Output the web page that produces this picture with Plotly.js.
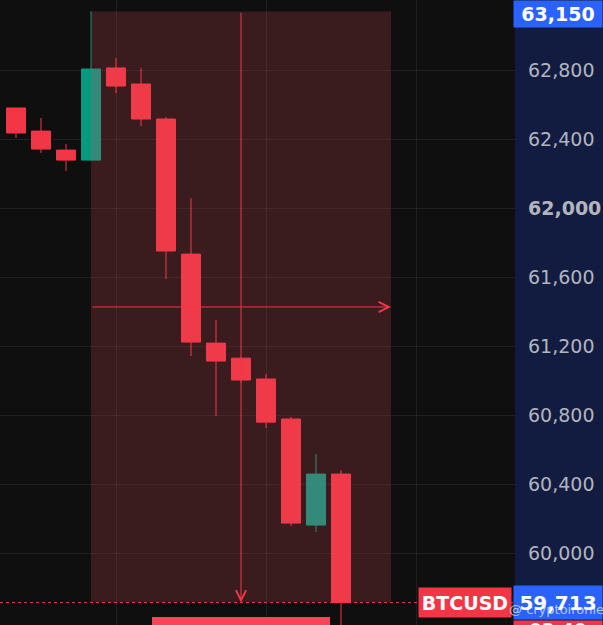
<!DOCTYPE html>
<html>
<head>
<meta charset="utf-8">
<script src="https://cdn.plot.ly/plotly-3.0.1.min.js"></script>
<style>
  html, body { margin: 0; padding: 0; background: #0f0f0f; }
  #chart { width: 603px; height: 625px; }
</style>
</head>
<body>
<div id="chart"></div>
<script>
// Bar index (5-min candles)
const barIndex = [0, 1, 2, 3, 4, 5, 6, 7, 8, 9, 10, 11, 12, 13];
const openPrices  = [62580, 62446, 62336, 62278, 62812, 62719, 62516, 61733, 61217, 61130, 61009, 60777, 60162, 60458];
const highPrices  = [62580, 62522, 62371, 63140, 62870, 62812, 62528, 62058, 61351, 61135, 61038, 60790, 60574, 60481];
const lowPrices   = [62406, 62319, 62215, 62278, 62667, 62475, 61588, 61142, 60794, 60990, 60725, 60157, 60122, 59560];
const closePrices = [62435, 62342, 62278, 62806, 62707, 62516, 61751, 61223, 61113, 61003, 60759, 60174, 60458, 59713];

const priceTicks = [60000, 60400, 60800, 61200, 61600, 62000, 62400, 62800];
const priceTickText = ["60,000", "60,400", "60,800", "61,200", "61,600", "<b>62,000</b>", "62,400", "62,800"];

const symbol = "BTCUSD";
const lastPriceText = "59,713";
const highLabelText = "63,150";
const countdownText = "03:40";
const watermark = "@ cryptoironie";

const UP = "#089981", DOWN = "#f23645";
const measureStart = 3, measureEnd = 15;
const measureTop = highPrices[3];
const lastClose = closePrices[closePrices.length - 1];
const measureMid = (measureTop + lastClose) / 2;
const measureMidX = (measureStart + measureEnd) / 2;
const xDomainEnd = 515 / 603;

const trace = {
  type: "candlestick",
  x: barIndex,
  open: openPrices, high: highPrices, low: lowPrices, close: closePrices,
  increasing: { line: { color: UP, width: 1 }, fillcolor: UP },
  decreasing: { line: { color: DOWN, width: 1 }, fillcolor: DOWN },
  whiskerwidth: 0,
  hoverinfo: "none",
  showlegend: false
};

const gridCol = "rgba(255,255,255,0.07)";

const layout = {
  width: 603, height: 625,
  margin: { l: 0, r: 0, t: 0, b: 0 },
  paper_bgcolor: "#0f0f0f",
  plot_bgcolor: "#0f0f0f",
  boxgap: 0.24,
  boxgroupgap: 0,
  showlegend: false,
  xaxis: {
    domain: [0, xDomainEnd],
    range: [-0.64, 19.96],
    showticklabels: false,
    ticks: "",
    tick0: 4, dtick: 6,
    showgrid: true, gridcolor: gridCol, gridwidth: 1,
    zeroline: false, showline: false,
    rangeslider: { visible: false },
    fixedrange: true
  },
  yaxis: {
    side: "right",
    range: [59583, 63206],
    tickmode: "array",
    tickvals: priceTicks,
    ticktext: priceTickText,
    ticks: "",
    ticklabelstandoff: 12,
    tickfont: { family: "DejaVu Sans", size: 19, color: "#b2b5be" },
    showgrid: true, gridcolor: gridCol, gridwidth: 1,
    zeroline: false, showline: false,
    fixedrange: true
  },
  shapes: [
    // right price panel
    { type: "rect", xref: "paper", yref: "paper", x0: xDomainEnd, x1: 1, y0: 0, y1: 1,
      fillcolor: "#121c40", line: { width: 0 }, layer: "below" },
    // measure region
    { type: "rect", xref: "x", yref: "y", x0: measureStart, x1: measureEnd, y0: lastClose, y1: measureTop,
      fillcolor: "rgba(230,80,90,0.2)", line: { width: 0 }, layer: "above" },
    // dotted last price line
    { type: "line", xref: "paper", yref: "y", x0: 0, x1: xDomainEnd, y0: lastClose, y1: lastClose,
      line: { color: DOWN, width: 1, dash: "dot" }, layer: "above" },
    // date range label at bottom
    { type: "rect", xref: "x", yref: "paper", x0: 5.44, x1: 12.56, y0: -0.05, y1: 8 / 625,
      fillcolor: "#f5475a", line: { width: 0 }, layer: "above" }
  ],
  annotations: [
    // horizontal measure line with arrow
    { xref: "x", yref: "y", axref: "x", ayref: "y", x: measureEnd, y: measureMid, ax: measureStart, ay: measureMid,
      text: "", showarrow: true, arrowhead: 5, arrowsize: 2, arrowwidth: 1, arrowcolor: DOWN },
    // vertical measure line with arrow
    { xref: "x", yref: "y", axref: "x", ayref: "y", x: measureMidX, y: lastClose, ax: measureMidX, ay: measureTop,
      text: "", showarrow: true, arrowhead: 5, arrowsize: 2, arrowwidth: 1, arrowcolor: DOWN },
    // high label
    { xref: "paper", yref: "paper", x: 1, y: 1, xanchor: "right", yanchor: "top",
      text: "<b>" + highLabelText + "</b>", showarrow: false, width: 88, height: 26,
      bgcolor: "#2962ff", borderpad: 0, font: { family: "DejaVu Sans", size: 19, color: "#ffffff" } },
    // last price label
    { xref: "paper", yref: "y", x: 1, y: lastClose, xanchor: "right", yanchor: "middle",
      text: "<b>" + lastPriceText + "</b>", showarrow: false, width: 88, height: 33,
      bgcolor: "#2962ff", borderpad: 0, font: { family: "DejaVu Sans", size: 20, color: "#ffffff" } },
    // countdown label (cut off)
    { xref: "paper", yref: "paper", x: 1, y: 5 / 625, xanchor: "right", yanchor: "top",
      text: "<b>" + countdownText + "</b>", showarrow: false, width: 88, height: 17,
      bgcolor: DOWN, borderpad: 0, font: { family: "DejaVu Sans", size: 18, color: "#ffffff" } },
    // symbol label
    { xref: "paper", yref: "y", x: 512 / 603, y: lastClose, xanchor: "right", yanchor: "middle",
      text: "<b>" + symbol + "</b>", showarrow: false, width: 92, height: 29,
      bgcolor: DOWN, borderpad: 0, font: { family: "DejaVu Sans", size: 19, color: "#ffffff" } },
    // watermark
    { xref: "paper", yref: "paper", x: 556 / 603, y: 1 - 609 / 625, xanchor: "center", yanchor: "middle",
      text: watermark, showarrow: false,
      font: { family: "DejaVu Sans", size: 13, color: "rgba(255,255,255,0.65)" } }
  ]
};

Plotly.newPlot("chart", [trace], layout, { staticPlot: true, displayModeBar: false });
</script>
</body>
</html>
